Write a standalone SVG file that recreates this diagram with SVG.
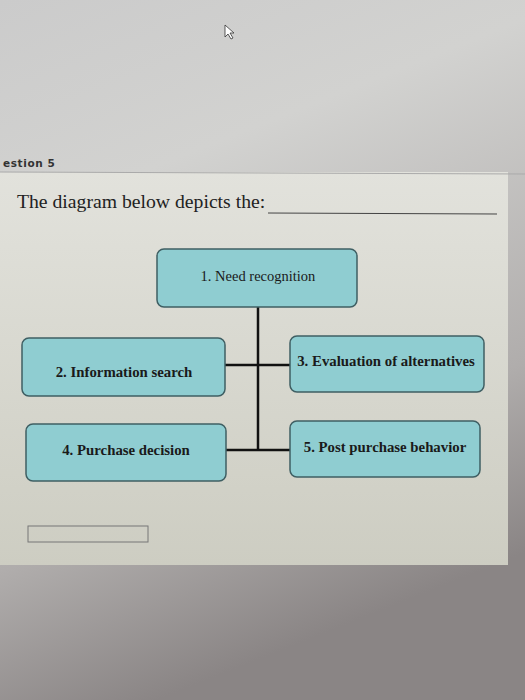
<svg xmlns="http://www.w3.org/2000/svg" width="525" height="700" viewBox="0 0 525 700">
<defs>
<linearGradient id="bg" x1="0" y1="0" x2="0.3" y2="1">
<stop offset="0" stop-color="#cbcbcb"/>
<stop offset="0.3" stop-color="#d2d2d0"/>
<stop offset="0.75" stop-color="#b0adac"/>
<stop offset="1" stop-color="#8a8585"/>
</linearGradient>
<linearGradient id="panel" x1="0" y1="0" x2="0" y2="1">
<stop offset="0" stop-color="#e2e2dc"/>
<stop offset="1" stop-color="#cdcdc2"/>
</linearGradient>
<style>
.node rect{fill:#8fcdd1;stroke:#3f5f63;stroke-width:1.5}
.node text{font-family:"Liberation Serif",serif;font-size:14.5px;fill:#1a1a1a;text-anchor:middle}
.b text{font-weight:bold;font-size:14.8px}
#connectors line{stroke:#111;stroke-width:2.5}
</style>
</defs>
<rect x="0" y="0" width="525" height="700" fill="url(#bg)"/>
<rect x="0" y="172" width="508" height="393" fill="url(#panel)"/>
<line x1="0" y1="172" x2="525" y2="174" stroke="#aaa" stroke-width="1"/>
<text x="3" y="167" font-family="DejaVu Sans,sans-serif" font-size="10.5" font-weight="bold" fill="#333" letter-spacing="0.6">estion 5</text>
<text x="17" y="208" font-family="Liberation Serif,serif" font-size="19.7" fill="#222">The diagram below depicts the:</text>
<line x1="268" y1="213" x2="497" y2="214" stroke="#444" stroke-width="1"/>
<path d="M225,25 L225,37 L228,34 L231,39 L233,38 L230,33 L234,33 Z" fill="#fff" stroke="#333" stroke-width="0.8"/>
<g id="connectors">
<line x1="258" y1="307" x2="258" y2="451"/>
<line x1="225" y1="365" x2="290" y2="365"/>
<line x1="226" y1="450" x2="290" y2="450"/>
</g>
<g id="n1" class="node"><rect x="157" y="249" width="200" height="58" rx="7"/><text x="258" y="281">1. Need recognition</text></g>
<g id="n2" class="node b"><rect x="22" y="338" width="203" height="58" rx="7"/><text x="124" y="377">2. Information search</text></g>
<g id="n3" class="node b"><rect x="290" y="336" width="194" height="56" rx="7"/><text x="386" y="366">3. Evaluation of alternatives</text></g>
<g id="n4" class="node b"><rect x="26" y="424" width="200" height="57" rx="7"/><text x="126" y="455">4. Purchase decision</text></g>
<g id="n5" class="node b"><rect x="290" y="421" width="190" height="56" rx="7"/><text x="385" y="452">5. Post purchase behavior</text></g>
<rect x="28" y="526" width="120" height="16" fill="none" stroke="#777" stroke-width="1"/>
</svg>
